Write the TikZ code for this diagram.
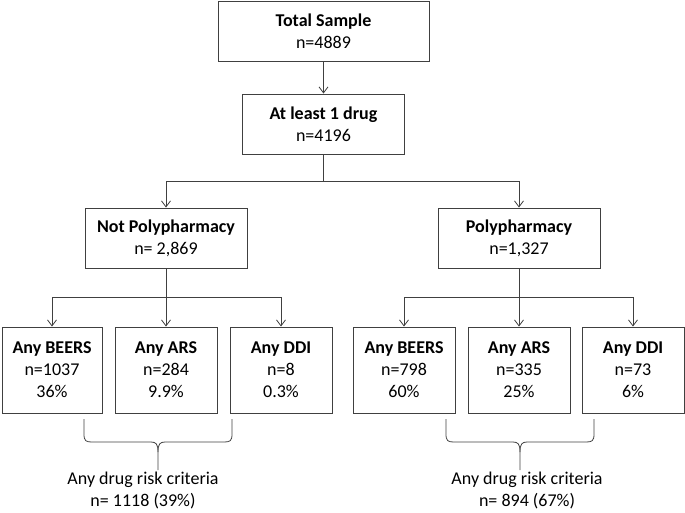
\documentclass[tikz,border=0pt]{standalone}
\usepackage{fontspec}
\setmainfont{Carlito}
\usetikzlibrary{arrows.meta}
\definecolor{ln}{HTML}{404040}
\tikzset{
  box/.style={draw=ln, line width=0.9pt, inner sep=0pt, align=center,
    font=\fontsize{18}{22}\selectfont, text=black},
  conn/.style={draw=ln, line width=0.8pt},
  arr/.style={conn, -{Straight Barb[length=6pt,width=9pt,line width=0.8pt]}},
  brace/.style={draw=ln, line width=0.8pt},
  lab/.style={inner sep=0pt, align=center, font=\fontsize{18}{22}\selectfont, text=black}
}
\begin{document}
\begin{tikzpicture}[x=1pt,y=-1pt]
\useasboundingbox (0,0) rectangle (685,512);
% top boxes
\node[box, minimum width=211pt, minimum height=60pt] (total) at (323.5,31) {\textbf{Total Sample}\\n=4889};
\node[box, minimum width=162pt, minimum height=60pt] (one) at (323.5,124) {\textbf{At least 1 drug}\\n=4196};
\node[box, minimum width=162pt, minimum height=60pt] (np) at (166,238) {\textbf{Not Polypharmacy}\\n= 2,869};
\node[box, minimum width=162pt, minimum height=60pt] (pp) at (519,238) {\textbf{Polypharmacy}\\n=1,327};
% children
\node[box, minimum width=100pt, minimum height=86pt] (nb) at (52,370) {\textbf{Any BEERS}\\n=1037\\36\%};
\node[box, minimum width=102pt, minimum height=86pt] (na) at (166,370) {\textbf{Any ARS}\\n=284\\9.9\%};
\node[box, minimum width=102pt, minimum height=86pt] (nd) at (281,370) {\textbf{Any DDI}\\n=8\\0.3\%};
\node[box, minimum width=102pt, minimum height=86pt] (pb) at (404,370) {\textbf{Any BEERS}\\n=798\\60\%};
\node[box, minimum width=102pt, minimum height=86pt] (pa) at (519,370) {\textbf{Any ARS}\\n=335\\25\%};
\node[box, minimum width=102pt, minimum height=86pt] (pd) at (633,370) {\textbf{Any DDI}\\n=73\\6\%};
% connectors
\draw[arr] (total.south) -- (one.north);
\coordinate (s1) at (323.5,181);
\draw[conn] (one.south) -- (s1);
\draw[arr] (s1) -| (np.north);
\draw[arr] (s1) -| (pp.north);
\coordinate (s2) at (166,297);
\draw[conn] (np.south) -- (s2);
\draw[arr] (s2) -| (nb.north);
\draw[arr] (s2) -- (na.north);
\draw[arr] (s2) -| (nd.north);
\coordinate (s3) at (519,297);
\draw[conn] (pp.south) -- (s3);
\draw[arr] (s3) -| (pb.north);
\draw[arr] (s3) -- (pa.north);
\draw[arr] (s3) -| (pd.north);
% braces
\draw[brace] (84,419) -- (84,434) .. controls (84,441) and (86,442) .. (92,442)
  -- (151,442) .. controls (156,442) and (158,444) .. (158,452) -- (158,470);
\draw[brace] (158,452) .. controls (158,444) and (160,442) .. (165,442)
  -- (224,442) .. controls (230,442) and (232,441) .. (232,434) -- (232,419);
\draw[brace] (446,419) -- (446,434) .. controls (446,441) and (448,442) .. (454,442)
  -- (513,442) .. controls (518,442) and (520,444) .. (520,452) -- (520,470);
\draw[brace] (520,452) .. controls (520,444) and (522,442) .. (527,442)
  -- (586,442) .. controls (592,442) and (594,441) .. (594,434) -- (594,419);
% labels
\node[lab] (lcrit) at (143,490) {Any drug risk criteria\\n= 1118 (39\%)};
\node[lab] (rcrit) at (527,490) {Any drug risk criteria\\n= 894 (67\%)};
\end{tikzpicture}
\end{document}
